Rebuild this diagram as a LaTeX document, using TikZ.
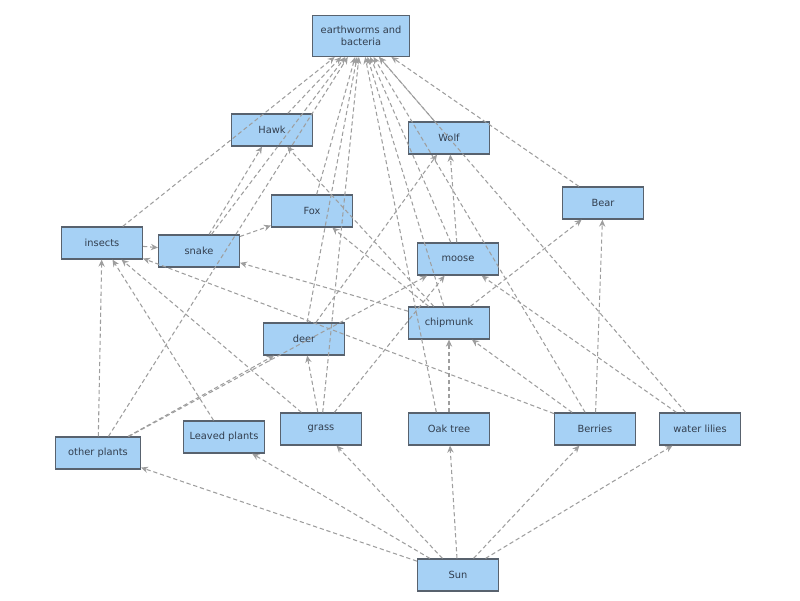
\documentclass[tikz,border=0pt]{standalone}
\usepackage{fontspec}
\setmainfont{DejaVu Sans}
\usetikzlibrary{arrows.meta}
\definecolor{boxblue}{RGB}{166,209,245}
\definecolor{boxline}{RGB}{88,98,110}
\definecolor{boxtext}{RGB}{50,62,78}
\definecolor{flowgray}{RGB}{158,158,158}
\tikzset{
  box/.style={draw=boxline, line width=0.9pt, fill=boxblue, text=boxtext,
    minimum width=2.02cm, minimum height=0.8cm, inner sep=1pt,
    font=\fontsize{7}{8.5}\selectfont, align=center},
  flow/.style={draw=flowgray, line width=0.75pt, dash pattern=on 3pt off 2pt,
    -{Stealth[length=5pt,width=4.5pt]}}
}
\begin{document}
\begin{tikzpicture}[x=0.025cm, y=-0.025cm]
      \useasboundingbox (0,0) rectangle (800,600);

      \node[box, minimum width=2.42cm, minimum height=1.02cm] (worms) at (361,36) {earthworms and\\bacteria};
      \node[box] (hawk) at (272,130) {Hawk};
      \node[box] (wolf) at (449,138) {Wolf};
      \node[box] (bear) at (603,203) {Bear};
      \node[box] (fox) at (312,211) {Fox};
      \node[box] (insects) at (102,243) {insects};
      \node[box] (snake) at (199,251) {snake};
      \node[box] (moose) at (458,259) {moose};
      \node[box] (chipmunk) at (449,323) {chipmunk};
      \node[box] (deer) at (304,339) {deer};
      \node[box, minimum width=2.12cm] (other) at (98,453) {other plants};
      \node[box] (leaved) at (224,437) {Leaved plants};
      \node[box] (grass) at (321,429) {grass};
      \node[box] (oak) at (449,429) {Oak tree};
      \node[box] (berries) at (595,429) {Berries};
      \node[box] (lilies) at (700,429) {water lilies};
      \node[box] (sun) at (458,575) {Sun};

      % sunlight
      \foreach \p in {other, leaved, grass, oak, berries, lilies} {
        \draw[flow] (sun) -- (\p);
      }

      % who eats what
      \foreach \a/\b in {other/insects, other/deer, other/moose, leaved/insects,
          grass/insects, grass/deer, grass/moose, oak/chipmunk,
          berries/chipmunk, berries/insects, berries/bear, lilies/moose,
          insects/snake, snake/fox, snake/hawk, chipmunk/hawk, chipmunk/fox,
          chipmunk/snake, chipmunk/bear, deer/wolf, moose/wolf} {
        \draw[flow] (\a) -- (\b);
      }

      % decomposers
      \foreach \a in {insects, snake, other, hawk, fox, deer, grass, chipmunk,
          moose, berries, lilies, wolf, bear} {
        \draw[flow] (\a) -- (worms);
      }
      \draw[flow] ([xshift=-9]oak.north) -- (worms);
    \end{tikzpicture}
\end{document}
